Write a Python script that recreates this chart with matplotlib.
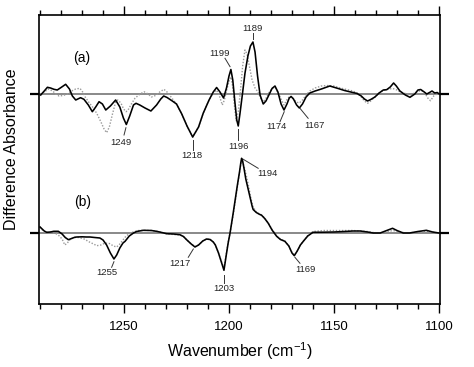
import matplotlib
matplotlib.use("Agg")
import matplotlib.pyplot as plt
from matplotlib.ticker import MultipleLocator
import numpy as np

plt.rcParams['font.family'] = ['Liberation Sans', 'DejaVu Sans']
plt.rcParams['mathtext.fontset'] = 'custom'
plt.rcParams['mathtext.rm'] = 'Liberation Sans'
plt.rcParams['mathtext.it'] = 'Liberation Sans:italic'

# ---------------- data (values in units of 0.01) ----------------
a_solid_wn = [1289.7, 1288, 1286.5, 1285, 1283.4, 1281.8, 1280, 1277.8, 1276, 1274.6, 1273, 1270.7,
              1269.1, 1267, 1265.1, 1263.5, 1261.9, 1260.3, 1258.7, 1256.5, 1254, 1252, 1250.3, 1248.9,
              1247.3, 1245.5, 1244.3, 1242.5, 1240, 1237.2, 1234.5, 1232.5, 1231.1, 1229.5, 1227, 1225,
              1222.5, 1220, 1217.3, 1214.5, 1212.3, 1209.5, 1207.5, 1205.9, 1204.3, 1202.6, 1201.2, 1200,
              1199.1, 1198.2, 1197.2, 1196.3, 1195.6, 1194.8, 1193.6, 1192.4, 1191, 1189.8, 1188.6, 1187.6,
              1186.4, 1185.2, 1183.7, 1182.4, 1181, 1179.5, 1178.1, 1176.7, 1175.2, 1173.8, 1172.4, 1171.3,
              1170.4, 1169.3, 1167.8, 1166.5, 1165, 1163.3, 1161.5, 1159, 1156, 1152, 1148, 1145, 1142,
              1139, 1137, 1135.5, 1134, 1132.5, 1130.5, 1128.5, 1126.5, 1124.9, 1123.2, 1121.6, 1120.3,
              1118.6, 1116, 1113.8, 1111.5, 1110, 1108.7, 1107, 1105.8, 1104.5, 1103.3, 1102, 1100.8, 1099.9]
a_solid_val = [-1, 3, 6.7, 6, 4.7, 4, 6.5, 9.7, 5, -2, -6, -3.7,
               -5.3, -11, -17.7, -13, -7.7, -10, -16, -12, -6, -13, -24, -30.5,
               -22, -11, -9.3, -11, -14, -17, -11, -5, -2, -3.5, -7, -10,
               -20, -32, -43, -33, -19.3, -6, 2, 6.5, 2, -4, 6, 18,
               24.5, 14, -8, -26, -32, -20, 0, 20.7, 38, 48, 52, 42,
               18, -1, -10, -7, -1, 5.5, 8, 2, -10, -16, -10, -4,
               -2.5, -5, -11, -14, -10, -3, 1, 3, 5, 8, 5.5, 3.5, 2,
               0.5, -2, -5, -7, -5.5, -3, 1, 4, 4.3, 7, 11, 8,
               3, -1, -3.3, 0, 4, 4.5, 2, 0, 1.5, 3, 1, 1.5, 0]

a_dot_wn = [1289.7, 1288, 1286, 1284, 1282.5, 1281, 1279, 1277, 1275, 1273, 1271, 1269.7, 1268.5,
            1266.5, 1265, 1263, 1261, 1259.5, 1258.3, 1257, 1255.5, 1254, 1253, 1251.5, 1250.2, 1249,
            1247.8, 1246.5, 1244.8, 1243, 1240.5, 1238.5, 1237, 1235, 1233, 1231, 1229.5, 1228, 1226.5,
            1225, 1222.5, 1220, 1217.3, 1214.5, 1212.3, 1209.5, 1207.5, 1205.9, 1204.4, 1203.2, 1202.2,
            1201, 1199.8, 1199.1, 1198.3, 1197.4, 1196.6, 1195.6, 1194.6, 1193.5, 1192.4, 1191.4, 1190.3,
            1189, 1187.6, 1186.2, 1185, 1183.7, 1182.3, 1180.8, 1179.3, 1178, 1176.5, 1175, 1173.8,
            1172.5, 1171, 1169.6, 1168, 1166.5, 1165, 1163.3, 1161.5, 1159, 1156, 1153.5, 1150, 1147,
            1144, 1141, 1139, 1137, 1135.5, 1134, 1132.5, 1130.5, 1128.5, 1126.5, 1124, 1122, 1120,
            1118.5, 1116, 1113.5, 1111.5, 1109.5, 1108, 1106.5, 1105, 1104, 1102.5, 1101, 1099.9]
a_dot_val = [-1, 2, 5, 3, 0, -2, -1.5, 0, 3, 5, 5.7, 2, -3,
             -9, -13, -19.3, -28, -35, -38.7, -33, -20, -8, -6, -9, -15, -17.7,
             -15, -10, -4.3, -1, 2.3, 0, -3, -1.5, 2, 4.7, 2, -2, -6,
             -10, -20, -32, -43, -33, -19.3, -6, 1, 4, -3, -11, -6,
             5, 14, 17, 8, -12, -26.7, -18, 2, 28, 44, 40, 28,
             14, 6, 2, -4, -8, -4, 2, 6, 6, 1, -6, -11,
             -6, -2, -4, -8, -9, -6, -1, 3, 6, 8, 8.5, 8, 6,
             4.5, 3, 1, -3, -7, -9.3, -7, -3, 1, 3.5, 5, 5.5, 4,
             2, 0.5, -0.7, 1, 3, 3, 0, -5, -6.7, -2, 0, 0]

b_solid_wn = [1290, 1289, 1288, 1286.8, 1285, 1283.5, 1281.3, 1279.5, 1278, 1276.5, 1275, 1273.5,
              1272.5, 1270, 1268, 1266.2, 1264, 1261.5, 1260, 1258.3, 1256.5, 1254.8, 1253.5, 1252,
              1250.5, 1249.5, 1247.5, 1245.5, 1244, 1240.8, 1237, 1234.5, 1232, 1229.7, 1226.5, 1223.4,
              1221.7, 1220.2, 1218, 1216.2, 1214.5, 1212.5, 1210.7, 1209, 1207.5, 1206.5, 1205, 1203.5,
              1202.4, 1201.3, 1200.4, 1199.5, 1198, 1197, 1196, 1195, 1194.4, 1194, 1193.5, 1192.8,
              1192, 1191, 1190, 1189, 1188.5, 1187, 1185.5, 1184.5, 1183, 1181.3, 1179.5, 1177.3,
              1175.5, 1173.4, 1171.5, 1170, 1168.9, 1167.5, 1166, 1164.6, 1162.5, 1160, 1155, 1150,
              1145, 1141, 1137.5, 1134, 1131.3, 1128, 1125.5, 1122.1, 1120, 1117, 1114, 1110, 1106,
              1103, 1100]
b_solid_val = [6, 4, 2, 0.7, 1, 1.7, 1.7, -1, -4.5, -6.7, -5.5, -4.3,
               -4, -3.8, -4, -4, -4.5, -5, -7, -12, -20, -26, -22, -15,
               -10, -8.3, -3, 0, 1.5, 2.7, 2.5, 1.7, 0.5, -0.7, -1, -1.7,
               -3.5, -6.7, -11, -14, -12, -8, -6, -6.5, -9, -12, -20, -30,
               -37.3, -22, -10, 0, 20, 34, 48, 61, 70, 74.7, 72, 64,
               54, 45, 36, 27, 23.5, 20.5, 18.7, 17.8, 14.5, 9.7, 3, -3.3,
               -6.5, -8.3, -13, -20, -22.7, -18, -12, -8.3, -3, 0.7, 0.8, 1,
               1.5, 2, 2, 1, 0, 0, 2, 4.7, 2.5, 0, 0, 1.5, 2.7,
               1, 0]

b_dot_wn = [1290, 1288.5, 1286.8, 1285, 1283, 1281.3, 1279.5, 1278.2, 1277, 1275.5, 1273.5, 1271.5,
            1269, 1266.5, 1264.5, 1263, 1261, 1259, 1257, 1255, 1253.5, 1252, 1250.5, 1249, 1247,
            1245, 1243, 1240.8, 1237, 1234.5, 1232, 1229.7, 1226.5, 1223.4, 1221.7, 1220.2, 1218,
            1216.2, 1214.5, 1212.5, 1210.7, 1209, 1207.5, 1206.5, 1205, 1203.5, 1202.4, 1201.3, 1200.4,
            1199.5, 1198, 1197, 1196, 1195, 1194.4, 1193.8, 1193.3, 1192.5, 1191.5, 1190.5, 1189.5,
            1188.5, 1187, 1185.5, 1184.5, 1183, 1181.3, 1179.5, 1177.3, 1175.5, 1173.4, 1171.5, 1170,
            1168.9, 1167.5, 1166, 1164.6, 1162.5, 1160, 1155, 1150, 1145, 1141, 1137.5, 1134, 1131.3,
            1128, 1125.5, 1122, 1119, 1116, 1112, 1108, 1105, 1102, 1100]
b_dot_val = [6, 2, 0.5, 1, 0, -2, -6, -12, -10, -6, -4.5, -4.5,
             -6, -9, -11, -12.7, -12, -10, -10.5, -13, -14, -11, -7, -3, 0,
             1.5, 2.5, 2.7, 2.5, 1.7, 0.5, -0.7, -1.5, -2, -3.5, -6.7, -11,
             -13.5, -12, -8, -6, -6.5, -9, -12, -20, -29, -35, -21, -9,
             0, 18, 32, 46, 60, 68, 72, 70, 64, 55, 45, 34,
             26, 21, 19, 18, 15, 10, 3.5, -3, -6, -8, -13, -19.5,
             -22, -18, -12, -8, -2.5, 1.5, 2.5, 2.5, 2.5, 2.5, 2, 1.5, 0.5,
             0, 1, 2.5, 1.5, 0, 0.5, 1, 1.5, 0.5, 0]

trace_offsets = {'a': 139.0, 'b': 0.0}
scale = 0.01

peak_labels_a = ['1249', '1218', '1199', '1189', '1196', '1174', '1167']
peak_labels_b = ['1194', '1255', '1217', '1203', '1169']

# ---------------- figure ----------------
fig = plt.figure(figsize=(4.74, 3.67), dpi=100)
ax = fig.add_axes([39/474, 63/367, 401/474, 289/367])

off_a = trace_offsets['a'] * scale
off_b = trace_offsets['b'] * scale

ax.axhline(off_a, color='#808080', lw=1.3, zorder=1)
ax.axhline(off_b, color='#808080', lw=1.3, zorder=1)

ax.plot(a_dot_wn, np.array(a_dot_val) * scale + off_a, color='#9a9a9a', lw=1.0, ls=(0, (1, 1.2)), zorder=2)
ax.plot(b_dot_wn, np.array(b_dot_val) * scale + off_b, color='#9a9a9a', lw=1.0, ls=(0, (1, 1.2)), zorder=2)
ax.plot(a_solid_wn, np.array(a_solid_val) * scale + off_a, color='black', lw=1.15, zorder=3,
        solid_joinstyle='round')
ax.plot(b_solid_wn, np.array(b_solid_val) * scale + off_b, color='black', lw=1.15, zorder=3,
        solid_joinstyle='round')

ax.set_xlim(1290.5, 1099.5)
ax.set_ylim(-0.71, 2.18)

# annotation layout: (text x, text y, line x0, y0, x1, y1)
ann_a = [(1251.6, 0.903, 1249.1, 1.053, 1250.0, 0.98),
         (1217.8, 0.770, 1217.3, 0.93, 1217.3, 0.83),
         (1204.6, 1.797, 1201.9, 1.747, 1199.5, 1.663),
         (1188.9, 2.047, 1188.4, 2.003, 1188.4, 1.937),
         (1195.6, 0.863, 1195.6, 1.037, 1195.6, 0.93),
         (1177.3, 1.063, 1173.7, 1.213, 1175.7, 1.113),
         (1159.5, 1.080, 1166.2, 1.247, 1162.3, 1.147)]
ann_b = [(1181.8, 0.590, 1193.2, 0.737, 1186.1, 0.647),
         (1258.3, -0.397, 1254.8, -0.287, 1255.9, -0.343),
         (1223.4, -0.310, 1217.0, -0.160, 1219.4, -0.243),
         (1202.4, -0.553, 1202.4, -0.420, 1202.4, -0.497),
         (1163.8, -0.363, 1168.6, -0.243, 1166.2, -0.303)]

for lab, (tx, ty, x0, y0, x1, y1) in zip(peak_labels_a + peak_labels_b, ann_a + ann_b):
    ax.plot([x0, x1], [y0, y1], color='#333333', lw=0.7, zorder=4)
    ax.text(tx, ty, lab, fontsize=6.8, ha='center', va='center', color='#222222')

ax.text(1270.2, 1.747, '(a)', fontsize=10, ha='center', va='center')
ax.text(1269.5, 0.31, '(b)', fontsize=10, ha='center', va='center')

ax.xaxis.set_major_locator(MultipleLocator(50))
ax.xaxis.set_minor_locator(MultipleLocator(10))
ax.set_yticks([off_b, off_a])
ax.set_yticklabels([])
ax.tick_params(axis='x', which='major', direction='out', length=6.5, width=1.0, top=True,
               labelsize=9.5, pad=6)
ax.tick_params(axis='x', which='minor', direction='out', length=3.6, width=1.0, top=True)
ax.tick_params(axis='y', which='major', direction='out', length=6.5, width=1.6, right=True)
for s in ax.spines.values():
    s.set_linewidth(1.2)

ax.set_xlabel(r'Wavenumber (cm$^{\mathrm{-1}}$)', fontsize=11.5, labelpad=5)
ax.set_ylabel('Difference Absorbance', fontsize=11.5)
ax.yaxis.set_label_coords(-0.05, 0.536)

fig.savefig('out.png', dpi=100)
